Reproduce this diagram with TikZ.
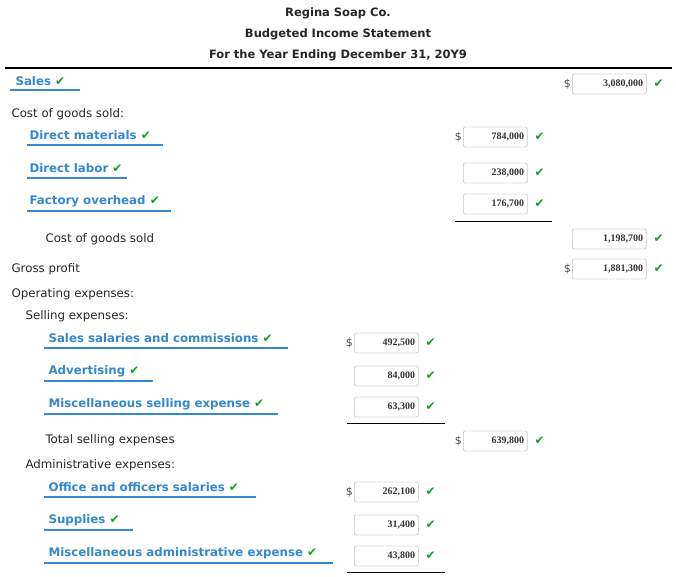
\documentclass[tikz,border=0pt]{standalone}
\usepackage{fontspec}
\setmainfont{DejaVu Sans}
\newfontfamily\numfont{Liberation Serif}
\usepackage{tikz}
\usetikzlibrary{positioning}
\definecolor{acctblue}{RGB}{52,136,204}
\definecolor{okgreen}{RGB}{20,160,40}
\definecolor{boxgray}{RGB}{150,150,150}
\newcommand{\tick}{{\fontsize{12}{13}\selectfont\textcolor{okgreen}{✔}}}

\begin{document}
\begin{tikzpicture}[
    x=1pt, y=-1pt,
    title/.style={font=\bfseries\fontsize{11.5}{13}\selectfont, text=black!85},
    plain/.style={anchor=west, font=\fontsize{11.8}{13}\selectfont, text=black!85},
    acct/.style={anchor=west, font=\bfseries\fontsize{11.8}{13}\selectfont, text=acctblue},
    ubar/.style={draw=acctblue, line width=1.6pt},
    amtbox/.style={draw=boxgray, rounded corners=1.5pt, minimum height=20pt, anchor=west,
        align=right, text width=58pt, inner sep=3pt, font=\numfont\bfseries\fontsize{10}{11}\selectfont, text=black!80},
    wide/.style={text width=68pt},
    dollar/.style={anchor=east, inner sep=1pt, font=\fontsize{11}{12}\selectfont, text=black!70},
    chk/.style={text=okgreen, font=\fontsize{12}{13}\selectfont, inner sep=0pt},
    rule/.style={draw=black, line width=0.8pt}
    ]
        \useasboundingbox (0,0) rectangle (676,577);
        %Heading
        \node[title] (t1) at (338,13) {Regina Soap Co.};
        \node[title] (t2) at (338,34) {Budgeted Income Statement};
        \node[title] (t3) at (338,55) {For the Year Ending December 31, 20Y9};
        \draw[line width=2pt] (5,68) -- (672,68);

        %Labels
        \node[acct] (sales) at (12,81) {Sales \tick};
        \node[plain] (cgs) at (8,114) {Cost of goods sold:};
        \node[acct] (dm) at (26,135) {Direct materials \tick};
        \node[acct] (dl) at (26,168) {Direct labor \tick};
        \node[acct] (fo) at (26,201) {Factory overhead \tick};
        \node[plain] (cgst) at (42,239) {Cost of goods sold};
        \node[plain] (gp) at (8,269) {Gross profit};
        \node[plain] (opex) at (8,294) {Operating expenses:};
        \node[plain] (selx) at (22,316) {Selling expenses:};
        \node[acct] (ssc) at (45,338) {Sales salaries and commissions \tick};
        \node[acct] (adv) at (45,371) {Advertising \tick};
        \node[acct] (mse) at (45,404) {Miscellaneous selling expense \tick};
        \node[plain] (tse) at (42,440) {Total selling expenses};
        \node[plain] (admx) at (22,465) {Administrative expenses:};
        \node[acct] (oos) at (45,487) {Office and officers salaries \tick};
        \node[acct] (sup) at (45,520) {Supplies \tick};
        \node[acct] (mae) at (45,553) {Miscellaneous administrative expense \tick};

        %Underlines
        \draw[ubar] (10,90) -- (80,90);
        \draw[ubar] (27,145) -- (163,145);
        \draw[ubar] (27,178) -- (127,178);
        \draw[ubar] (27,211) -- (171,211);
        \draw[ubar] (44,348) -- (288,348);
        \draw[ubar] (44,381) -- (153,381);
        \draw[ubar] (44,414) -- (278,414);
        \draw[ubar] (44,497) -- (256,497);
        \draw[ubar] (44,530) -- (133,530);
        \draw[ubar] (44,563) -- (333,563);

        %Amounts, third column
        \node[amtbox, wide] (vsales) at (572,84) {3,080,000};
        \node[amtbox, wide] (vcgs) at (572,239) {1,198,700};
        \node[amtbox, wide] (vgp) at (572,269) {1,881,300};
        \node[dollar] at (vsales.west) {\$};
        \node[dollar] at (vgp.west) {\$};
        \node[chk, right=7pt of vsales] {✔};
        \node[chk, right=7pt of vcgs] {✔};
        \node[chk, right=7pt of vgp] {✔};

        %Amounts, second column
        \node[amtbox] (vdm) at (463,137) {784,000};
        \node[amtbox] (vdl) at (463,173) {238,000};
        \node[amtbox] (vfo) at (463,204) {176,700};
        \node[amtbox] (vtse) at (463,441) {639,800};
        \node[dollar] at (vdm.west) {\$};
        \node[dollar] at (vtse.west) {\$};
        \foreach \n in {vdm,vdl,vfo,vtse}
            \node[chk, right=7pt of \n] {✔};
        \draw[rule] (455,221) -- (552,221);

        %Amounts, first column
        \node[amtbox] (vssc) at (354,343) {492,500};
        \node[amtbox] (vadv) at (354,376) {84,000};
        \node[amtbox] (vmse) at (354,407) {63,300};
        \node[amtbox] (voos) at (354,492) {262,100};
        \node[amtbox] (vsup) at (354,525) {31,400};
        \node[amtbox] (vmae) at (354,556) {43,800};
        \node[dollar] at (vssc.west) {\$};
        \node[dollar] at (voos.west) {\$};
        \foreach \n in {vssc,vadv,vmse,voos,vsup,vmae}
            \node[chk, right=7pt of \n] {✔};
        \draw[rule] (347,423) -- (445,423);
        \draw[rule] (347,572) -- (445,572);
    \end{tikzpicture}
\end{document}
